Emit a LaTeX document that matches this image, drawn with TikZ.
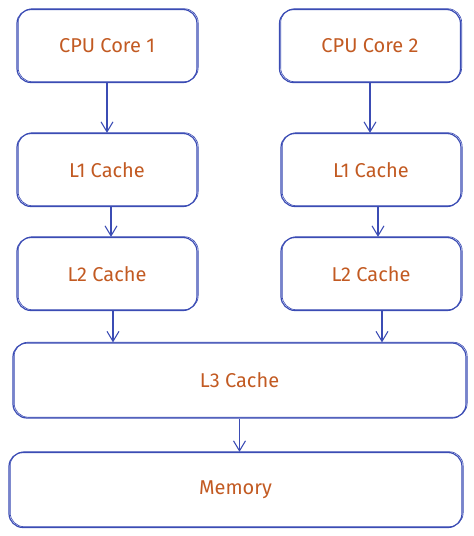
\documentclass[tikz,border=0pt]{standalone}
\usepackage{fontspec}
\setmainfont{Fira Sans}
\usetikzlibrary{arrows.meta}
\definecolor{sketchblue}{HTML}{3B4CB4}
\definecolor{labelorange}{HTML}{C25A22}
\tikzset{
  cachebox/.style={draw=sketchblue, line width=1.2pt, rounded corners=14pt,
    text=labelorange, font=\fontsize{20}{22}\selectfont, inner sep=0pt,
    postaction={draw=sketchblue, line width=0.6pt, transform canvas={shift={(1.2pt,0.8pt)}}}},
  flow/.style={draw=sketchblue, line width=1.1pt, -{Straight Barb[length=10pt,width=12pt,line width=1.1pt]}}
}
\begin{document}
\begin{tikzpicture}[x=1pt,y=-1pt]
  \useasboundingbox (0,0) rectangle (474,536);

  % cores
  \node[cachebox, minimum width=180pt, minimum height=73pt] (core1) at (107,46) {CPU Core 1};
  \node[cachebox, minimum width=181pt, minimum height=73pt] (core2) at (370,46) {CPU Core 2};

  % private caches
  \node[cachebox, minimum width=180pt, minimum height=73pt] (l1a) at (107,170) {L1 Cache};
  \node[cachebox, minimum width=180pt, minimum height=73pt] (l1b) at (371,170) {L1 Cache};
  \node[cachebox, minimum width=180pt, minimum height=73pt] (l2a) at (107,274) {L2 Cache};
  \node[cachebox, minimum width=180pt, minimum height=73pt] (l2b) at (371,274) {L2 Cache};

  % shared
  \node[cachebox, minimum width=453pt, minimum height=75pt] (l3) at (239.5,380.5) {L3 Cache};
  \node[cachebox, minimum width=453pt, minimum height=75pt] (mem) at (235.5,490) {Memory};

  \draw[flow] (core1.south) -- (l1a.north);
  \draw[flow] (core2.south) -- (core2.south |- l1b.north);
  \draw[flow] ([xshift=4pt]l1a.south) -- ([xshift=4pt]l2a.north);
  \draw[flow] ([xshift=7pt]l1b.south) -- ([xshift=7pt]l2b.north);
  \draw[flow] ([xshift=6pt]l2a.south) -- ([xshift=6pt]l2a.south |- l3.north);
  \draw[flow] ([xshift=11pt]l2b.south) -- ([xshift=11pt]l2b.south |- l3.north);
  \draw[flow] (l3.south) -- (l3.south |- mem.north);
\end{tikzpicture}
\end{document}
